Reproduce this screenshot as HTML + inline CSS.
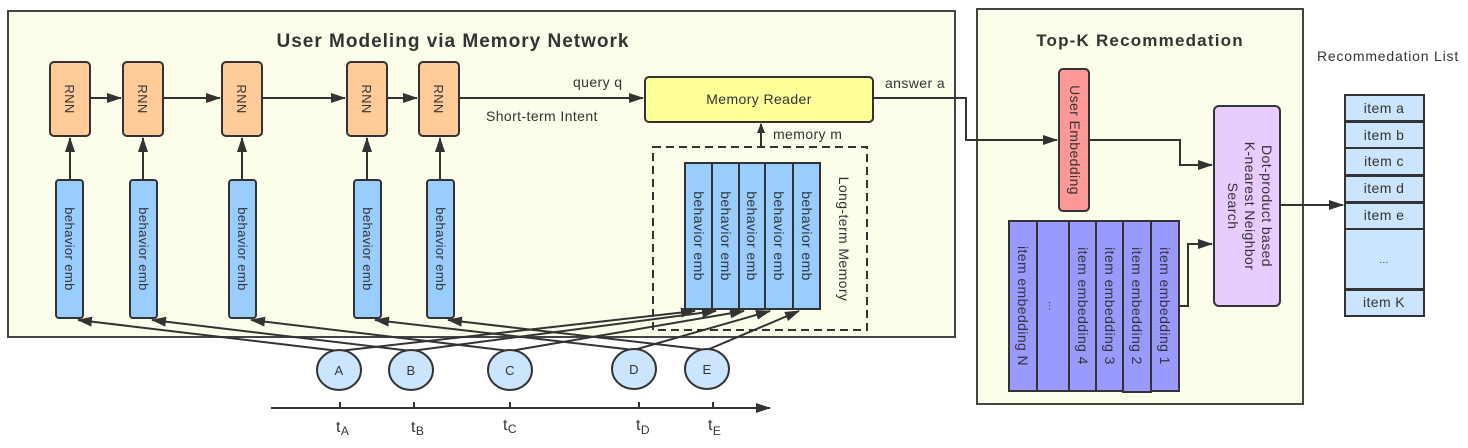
<!DOCTYPE html>
<html><head><meta charset="utf-8"><style>
html,body{margin:0;padding:0;background:#fff;}
svg text{font-family:"Liberation Sans",sans-serif;fill:#333;letter-spacing:0.4px;}
</style></head><body>
<svg width="1468" height="443" viewBox="0 0 1468 443" xmlns="http://www.w3.org/2000/svg">
<defs>
<marker id="ar" markerWidth="10" markerHeight="8" refX="9" refY="4" orient="auto" markerUnits="userSpaceOnUse">
<path d="M0,0 L10,4 L0,8 z" fill="#333"/></marker>
<marker id="ar2" markerWidth="15" markerHeight="10" refX="14" refY="5" orient="auto" markerUnits="userSpaceOnUse">
<path d="M0,0 L15,5 L0,10 z" fill="#333"/></marker>
</defs>
<!-- left panel -->
<rect x="8" y="11" width="947" height="326" fill="#fdfdec" stroke="#444" stroke-width="2"/>
<text x="453" y="47" font-size="19" font-weight="bold" text-anchor="middle" style="letter-spacing:1px">User Modeling via Memory Network</text>
<g stroke="#333" stroke-width="2" fill="#ffcc99">
<rect x="50" y="62" width="40" height="74" rx="4"/>
<rect x="123" y="62" width="40" height="74" rx="4"/>
<rect x="222" y="62" width="40" height="74" rx="4"/>
<rect x="347" y="62" width="40" height="74" rx="4"/>
<rect x="419" y="62" width="40" height="74" rx="4"/>
</g>
<g font-size="13">
<text transform="translate(65,99) rotate(90)" text-anchor="middle">RNN</text>
<text transform="translate(138,99) rotate(90)" text-anchor="middle">RNN</text>
<text transform="translate(237,99) rotate(90)" text-anchor="middle">RNN</text>
<text transform="translate(362,99) rotate(90)" text-anchor="middle">RNN</text>
<text transform="translate(434,99) rotate(90)" text-anchor="middle">RNN</text>
</g>
<g stroke="#333" stroke-width="2" fill="none">
<line x1="90" y1="98" x2="121" y2="98" marker-end="url(#ar2)"/>
<line x1="163" y1="98" x2="220" y2="98" marker-end="url(#ar2)"/>
<line x1="262" y1="98" x2="345" y2="98" marker-end="url(#ar2)"/>
<line x1="387" y1="98" x2="417" y2="98" marker-end="url(#ar2)"/>
<line x1="459" y1="98" x2="643" y2="98" marker-end="url(#ar2)"/>
<line x1="70" y1="180" x2="70" y2="138" marker-end="url(#ar2)"/>
<line x1="143" y1="180" x2="143" y2="138" marker-end="url(#ar2)"/>
<line x1="242" y1="180" x2="242" y2="138" marker-end="url(#ar2)"/>
<line x1="367" y1="180" x2="367" y2="138" marker-end="url(#ar2)"/>
<line x1="440" y1="180" x2="440" y2="138" marker-end="url(#ar2)"/>
</g>
<g stroke="#333" stroke-width="2" fill="#99ccff">
<rect x="56" y="180" width="27" height="138" rx="3"/>
<rect x="130" y="180" width="27" height="138" rx="3"/>
<rect x="229" y="180" width="27" height="138" rx="3"/>
<rect x="354" y="180" width="27" height="138" rx="3"/>
<rect x="427" y="180" width="27" height="138" rx="3"/>
</g>
<g font-size="13">
<text transform="translate(65,249) rotate(90)" text-anchor="middle">behavior emb</text>
<text transform="translate(139,249) rotate(90)" text-anchor="middle">behavior emb</text>
<text transform="translate(238,249) rotate(90)" text-anchor="middle">behavior emb</text>
<text transform="translate(363,249) rotate(90)" text-anchor="middle">behavior emb</text>
<text transform="translate(436,249) rotate(90)" text-anchor="middle">behavior emb</text>
</g>
<text x="573" y="87" font-size="14">query q</text>
<text x="486" y="121" font-size="14">Short-term Intent</text>
<rect x="645" y="77" width="228" height="45" rx="4" fill="#ffff99" stroke="#333" stroke-width="2"/>
<text x="759" y="104" font-size="14" text-anchor="middle">Memory Reader</text>
<text x="885" y="88" font-size="14">answer a</text>
<rect x="653" y="147" width="214" height="183" fill="none" stroke="#333" stroke-width="2" stroke-dasharray="8,5"/>
<line x1="761" y1="147" x2="761" y2="124" stroke="#333" stroke-width="2" marker-end="url(#ar)"/>
<text x="773" y="139" font-size="14">memory m</text>
<g stroke="#333" stroke-width="2" fill="#99ccff">
<rect x="685" y="163" width="27" height="146"/>
<rect x="712" y="163" width="27" height="146"/>
<rect x="739" y="163" width="26" height="146"/>
<rect x="765" y="163" width="28" height="146"/>
<rect x="793" y="163" width="27" height="146"/>
</g>
<g font-size="14">
<text transform="translate(694,236) rotate(90)" text-anchor="middle">behavior emb</text>
<text transform="translate(721,236) rotate(90)" text-anchor="middle">behavior emb</text>
<text transform="translate(747,236) rotate(90)" text-anchor="middle">behavior emb</text>
<text transform="translate(774,236) rotate(90)" text-anchor="middle">behavior emb</text>
<text transform="translate(802,236) rotate(90)" text-anchor="middle">behavior emb</text>
<text transform="translate(839,239) rotate(90)" text-anchor="middle">Long-term Memory</text>
</g>
<!-- connectors -->
<g stroke="#333" stroke-width="2" fill="none">
<line x1="339" y1="351" x2="78" y2="320" marker-end="url(#ar2)"/>
<line x1="411" y1="351" x2="152" y2="320" marker-end="url(#ar2)"/>
<line x1="510" y1="351" x2="251" y2="320" marker-end="url(#ar2)"/>
<line x1="634" y1="350" x2="375" y2="320" marker-end="url(#ar2)"/>
<line x1="707" y1="350" x2="448" y2="320" marker-end="url(#ar2)"/>
<line x1="339" y1="351" x2="695" y2="311" marker-end="url(#ar2)"/>
<line x1="411" y1="351" x2="716" y2="311" marker-end="url(#ar2)"/>
<line x1="510" y1="351" x2="744" y2="311" marker-end="url(#ar2)"/>
<line x1="634" y1="350" x2="770" y2="311" marker-end="url(#ar2)"/>
<line x1="707" y1="350" x2="799" y2="311" marker-end="url(#ar2)"/>
</g>
<g stroke="#333" stroke-width="2" fill="#cce5ff">
<ellipse cx="339" cy="370" rx="22" ry="20"/>
<ellipse cx="411" cy="370" rx="22" ry="20"/>
<ellipse cx="510" cy="370" rx="22" ry="20"/>
<ellipse cx="634" cy="369" rx="22" ry="20"/>
<ellipse cx="707" cy="369" rx="22" ry="20"/>
</g>
<g font-size="13" text-anchor="middle">
<text x="339" y="375">A</text><text x="411" y="375">B</text><text x="510" y="375">C</text><text x="634" y="374">D</text><text x="707" y="374">E</text>
</g>
<line x1="271" y1="408" x2="770" y2="408" stroke="#333" stroke-width="2" marker-end="url(#ar2)"/>
<g stroke="#333" stroke-width="2">
<line x1="340" y1="402" x2="340" y2="408"/><line x1="414" y1="402" x2="414" y2="408"/><line x1="510" y1="402" x2="510" y2="408"/><line x1="639" y1="402" x2="639" y2="408"/><line x1="713" y1="402" x2="713" y2="408"/>
</g>
<g font-size="16">
<text x="336" y="432">t<tspan font-size="12" dy="3">A</tspan></text>
<text x="411" y="432">t<tspan font-size="12" dy="3">B</tspan></text>
<text x="503" y="430">t<tspan font-size="12" dy="3">C</tspan></text>
<text x="636" y="430">t<tspan font-size="12" dy="4">D</tspan></text>
<text x="708" y="430">t<tspan font-size="12" dy="5">E</tspan></text>
</g>
<!-- right panel -->
<rect x="977" y="9" width="326" height="395" fill="#fdfdec" stroke="#444" stroke-width="2"/>
<text x="1140" y="46" font-size="17" font-weight="bold" text-anchor="middle" style="letter-spacing:1.2px">Top-K Recommedation</text>
<polyline points="873,98 966,98 966,140 1057,140" fill="none" stroke="#333" stroke-width="2" marker-end="url(#ar2)"/>
<rect x="1059" y="69" width="30" height="142" rx="4" fill="#ff9999" stroke="#333" stroke-width="2"/>
<text transform="translate(1070,140) rotate(90)" font-size="14" text-anchor="middle">User Embedding</text>
<polyline points="1089,140 1180,140 1180,165 1212,165" fill="none" stroke="#333" stroke-width="2" marker-end="url(#ar2)"/>
<rect x="1214" y="106" width="66" height="200" rx="5" fill="#e8ccff" stroke="#333" stroke-width="2"/>
<g font-size="14" text-anchor="middle">
<text transform="translate(1262,206) rotate(90)">Dot-product based</text>
<text transform="translate(1245,206) rotate(90)">K-nearest Neighbor</text>
<text transform="translate(1228,206) rotate(90)">Search</text>
</g>
<g stroke="#333" stroke-width="2" fill="#9999ff">
<rect x="1009" y="221" width="28" height="170"/>
<rect x="1037" y="221" width="32" height="170"/>
<rect x="1069" y="221" width="27" height="170"/>
<rect x="1096" y="221" width="27" height="170"/>
<rect x="1123" y="221" width="28" height="171"/>
<rect x="1151" y="221" width="28" height="170"/>
</g>
<g font-size="14" text-anchor="middle">
<text transform="translate(1018,306) rotate(90)">item embedding N</text>
<text transform="translate(1049,306) rotate(90)" font-size="10">...</text>
<text transform="translate(1078,306) rotate(90)">item embedding 4</text>
<text transform="translate(1105,306) rotate(90)">item embedding 3</text>
<text transform="translate(1132,306) rotate(90)">item embedding 2</text>
<text transform="translate(1160,306) rotate(90)">item embedding 1</text>
</g>
<polyline points="1179,306 1188,306 1188,244 1212,244" fill="none" stroke="#333" stroke-width="2" marker-end="url(#ar2)"/>
<line x1="1280" y1="205" x2="1343" y2="205" stroke="#333" stroke-width="2" marker-end="url(#ar2)"/>
<text x="1317" y="61" font-size="14" style="letter-spacing:0.8px">Recommedation List</text>
<g stroke="#333" stroke-width="2" fill="#cce5ff">
<rect x="1345" y="95" width="79" height="26"/>
<rect x="1345" y="122" width="79" height="26"/>
<rect x="1345" y="148" width="79" height="27"/>
<rect x="1345" y="176" width="79" height="26"/>
<rect x="1345" y="203" width="79" height="26"/>
<rect x="1345" y="229" width="79" height="60"/>
<rect x="1345" y="290" width="79" height="26"/>
</g>
<g font-size="14" text-anchor="middle">
<text x="1384" y="113">item a</text>
<text x="1384" y="140">item b</text>
<text x="1384" y="166">item  c</text>
<text x="1384" y="193">item d</text>
<text x="1384" y="220">item e</text>
<text x="1384" y="263" font-size="10">...</text>
<text x="1384" y="307">item K</text>
</g>
</svg>
</body></html>
